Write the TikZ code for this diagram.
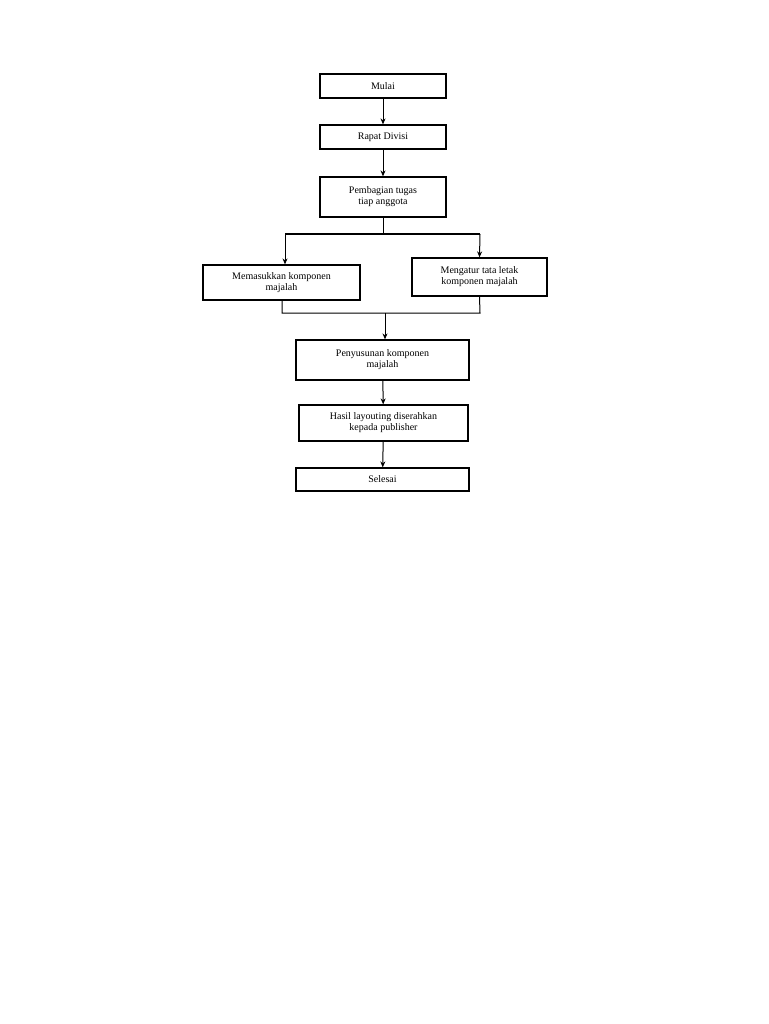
\documentclass[tikz,border=0pt]{standalone}
\usepackage{fontspec}
\setmainfont{Liberation Serif}
\usetikzlibrary{arrows.meta}
\begin{document}
\begin{tikzpicture}[x=1pt,y=-1pt,
  box/.style={draw,line width=1.2pt,font=\fontsize{10}{11}\selectfont,align=center,inner sep=0pt},
  arr/.style={line width=1pt,-{Stealth[length=6pt,width=5pt]}},
  ln/.style={line width=1pt}]
\useasboundingbox (0,0) rectangle (768,1024);
\node[box,minimum width=126,minimum height=24] (a) at (383,86) {Mulai};
\node[box,minimum width=126,minimum height=24] (b) at (383,137) {Rapat Divisi};
\node[box,minimum width=126,minimum height=40] (c) at (383,197) {Pembagian tugas\\tiap anggota};
\node[box,minimum width=157,minimum height=35] (d) at (281.5,282.5) {Memasukkan komponen\\majalah};
\node[box,minimum width=135,minimum height=38] (e) at (479.5,277) {Mengatur tata letak\\komponen majalah};
\node[box,minimum width=173,minimum height=40] (f) at (382.5,360) {Penyusunan komponen\\majalah};
\node[box,minimum width=169,minimum height=36] (g) at (383.5,423) {Hasil layouting diserahkan\\kepada publisher};
\node[box,minimum width=173,minimum height=23] (h) at (382.5,479.5) {Selesai};
\coordinate (s) at (383,234);
\coordinate (sl) at (285,234);
\coordinate (sr) at (480,234);
\coordinate (m) at (385,313);
\coordinate (ml) at (282,313);
\coordinate (mr) at (480,313);
\draw[arr] (a) -- (b);
\draw[arr] (b) -- (c);
\draw[ln] (c.south) -- (s);
\draw[ln] (sl) -- (sr);
\draw[arr] (sl) -- (sl |- d.north);
\draw[arr] (sr) -- (e.north);
\draw[ln] (ml |- d.south) -- (ml) -- (mr) -- (e.south);
\draw[arr] (m) -- (m |- f.north);
\draw[arr] (f) -- (g);
\draw[arr] (g) -- (h);
\end{tikzpicture}
\end{document}
